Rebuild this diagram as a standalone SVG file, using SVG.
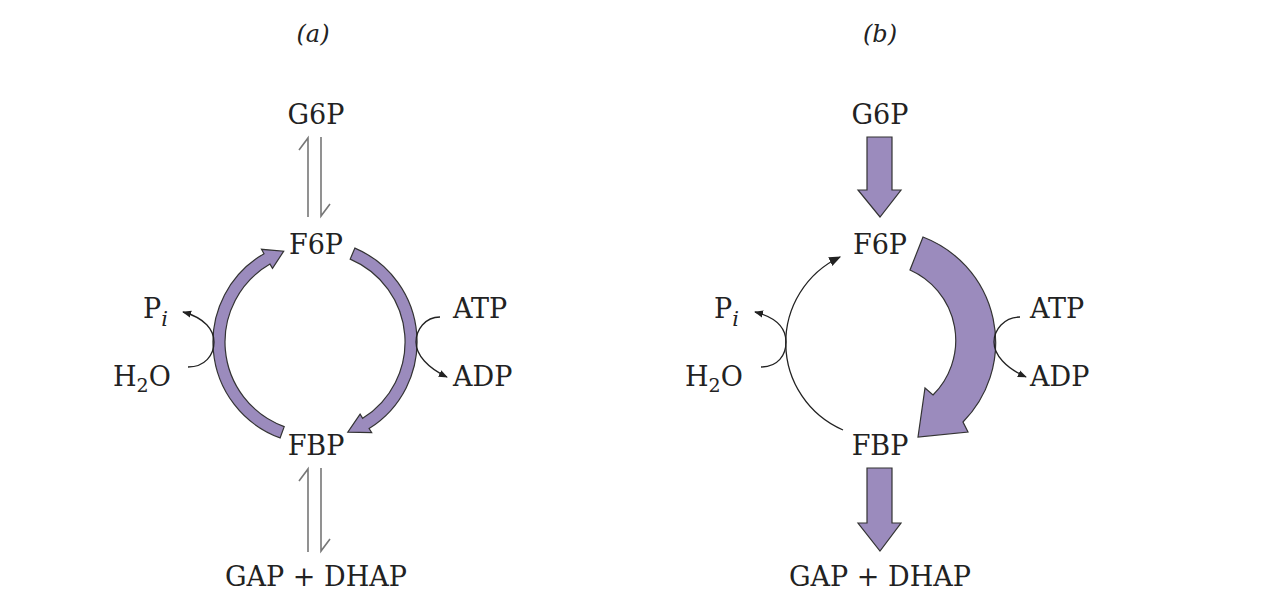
<svg xmlns="http://www.w3.org/2000/svg" width="1270" height="596" viewBox="0 0 1270 596">
<style>
text{font-family:"DejaVu Serif","Liberation Serif",serif;font-size:27px;fill:#222}
.c{text-anchor:middle}
.it{font-style:italic}
.big{fill:#9b8bbd;stroke:#333;stroke-width:1.2}
.thin{fill:none;stroke:#222;stroke-width:1.3}
.eq{fill:none;stroke:#777;stroke-width:1.6}
</style>
<defs>
<marker id="ah" viewBox="0 0 10 10" refX="9" refY="5" markerWidth="9" markerHeight="9" markerUnits="userSpaceOnUse" orient="auto"><path d="M0,1 L10,5 L0,9 Z" fill="#222"/></marker>
<marker id="ah2" viewBox="0 0 10 10" refX="9" refY="5" markerWidth="12" markerHeight="12" markerUnits="userSpaceOnUse" orient="auto"><path d="M0,1 L10,5 L0,9 Z" fill="#222"/></marker>
</defs>
<text class="c it" x="313" y="42" style="font-size:24px">(a)</text>
<text class="c it" x="880" y="42" style="font-size:24px">(b)</text>
<g id="connectors">
<!-- panel a -->
<path class="eq" d="M308,217 V138 L299,150"/>
<path class="eq" d="M321,137 V216 L330,204"/>
<path class="eq" d="M308,552 V469 L299,481"/>
<path class="eq" d="M321,468 V551 L330,539"/>
<path class="big" d="M280.1,437.9 A102,102 0 0 1 264,253.7 L261.5,249.3 L283.7,251.2 L272.5,268.4 L270,264.1 A90,90 0 0 0 284.2,426.6 Z"/>
<path class="big" d="M354.9,248.1 A102,102 0 0 1 369.1,428.5 L371.7,432.7 L347.8,432.2 L360.1,414.1 L362.7,418.3 A90,90 0 0 0 350.2,259.1 Z"/>
<path class="thin" marker-end="url(#ah)" d="M188,367 C205,367 214,355 214,342 C214,330 205,318 183,312"/>
<path class="thin" marker-end="url(#ah)" d="M440,317 C425,317 416,330 416,342 C416,355 428,368 447,377"/>
<!-- panel b -->
<path class="big" d="M867,137 H892 V190 H901 L880,217 L858,190 H867 Z"/>
<path class="big" d="M867,468 H892 V523 H901 L880,551 L858,523 H867 Z"/>
<path class="big" d="M923,237 A113,113 0 0 1 963,422 L968,432 L918,437 L925,388 L933,395 A77,77 0 0 0 910,270 Z"/>
<path class="thin" marker-end="url(#ah2)" d="M843,430 A95,95 0 0 1 840,257"/>
<path class="thin" marker-end="url(#ah)" d="M761,367 C778,367 786,355 786,342 C786,330 778,318 755,312"/>
<path class="thin" marker-end="url(#ah)" d="M1020,317 C1004,317 994,330 994,342 C994,355 1006,368 1026,377"/>
</g>
<g id="a-G6P"><text class="c" x="316" y="124">G6P</text></g>
<g id="a-F6P"><text class="c" x="316" y="254">F6P</text></g>
<g id="a-FBP"><text class="c" x="316" y="455">FBP</text></g>
<g id="a-GAP"><text class="c" x="316" y="586">GAP + DHAP</text></g>
<g id="a-Pi"><text x="143" y="318">P<tspan class="it" dy="8" style="font-size:21px">i</tspan></text></g>
<g id="a-H2O"><text x="113" y="386">H<tspan dy="6" style="font-size:19px">2</tspan><tspan dy="-6">O</tspan></text></g>
<g id="a-ATP"><text x="453" y="318">ATP</text></g>
<g id="a-ADP"><text x="453" y="386">ADP</text></g>
<g id="b-G6P"><text class="c" x="880" y="124">G6P</text></g>
<g id="b-F6P"><text class="c" x="880" y="254">F6P</text></g>
<g id="b-FBP"><text class="c" x="880" y="455">FBP</text></g>
<g id="b-GAP"><text class="c" x="880" y="586">GAP + DHAP</text></g>
<g id="b-Pi"><text x="714" y="318">P<tspan class="it" dy="8" style="font-size:21px">i</tspan></text></g>
<g id="b-H2O"><text x="685" y="386">H<tspan dy="6" style="font-size:19px">2</tspan><tspan dy="-6">O</tspan></text></g>
<g id="b-ATP"><text x="1030" y="318">ATP</text></g>
<g id="b-ADP"><text x="1030" y="386">ADP</text></g>
</svg>
